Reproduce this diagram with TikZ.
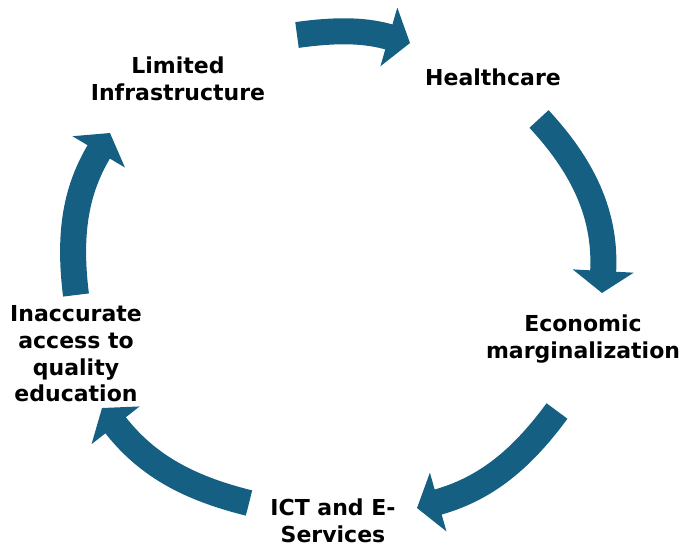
\documentclass[tikz,border=0pt]{standalone}
\usepackage{fontspec}
\setmainfont{DejaVu Sans}
\usetikzlibrary{arrows.meta}
\definecolor{cycleblue}{HTML}{156082}

\begin{document}
\begin{tikzpicture}[x=0.75pt,y=0.75pt,
    flow/.style={line width=19.5pt, cycleblue, -{Triangle[length=16.5pt,width=45pt]}},
    lbl/.style={font=\bfseries\fontsize{16.5}{20}\selectfont, align=center, inner sep=0pt}]
    \useasboundingbox (0,0) rectangle (685,547);

    \node[lbl] (infra) at (178,468) {Limited\\Infrastructure};
    \node[lbl] (health) at (493,470) {Healthcare};
    \node[lbl] (econ) at (583,208) {Economic\\marginalization};
    \node[lbl] (ict) at (333,26) {ICT and E-\\Services};
    \node[lbl] (edu) at (76,193) {Inaccurate\\access to\\quality\\education};

    \coordinate (a0) at (297,512); \coordinate (a1) at (410,504);
    \coordinate (b0) at (539,428); \coordinate (b1) at (602,254);
    \coordinate (c0) at (557,136); \coordinate (c1) at (417,39);
    \coordinate (d0) at (249,44);  \coordinate (d1) at (102,139);
    \coordinate (e0) at (76,252);  \coordinate (e1) at (110,414);

    \draw[flow] (a0) to[bend left=12] (a1);
    \draw[flow] (b0) to[bend left=23] (b1);
    \draw[flow] (c0) to[bend left=19] (c1);
    \draw[flow] (d0) to[bend left=19] (d1);
    \draw[flow] (e0) to[bend left=19] (e1);

\end{tikzpicture}
\end{document}
